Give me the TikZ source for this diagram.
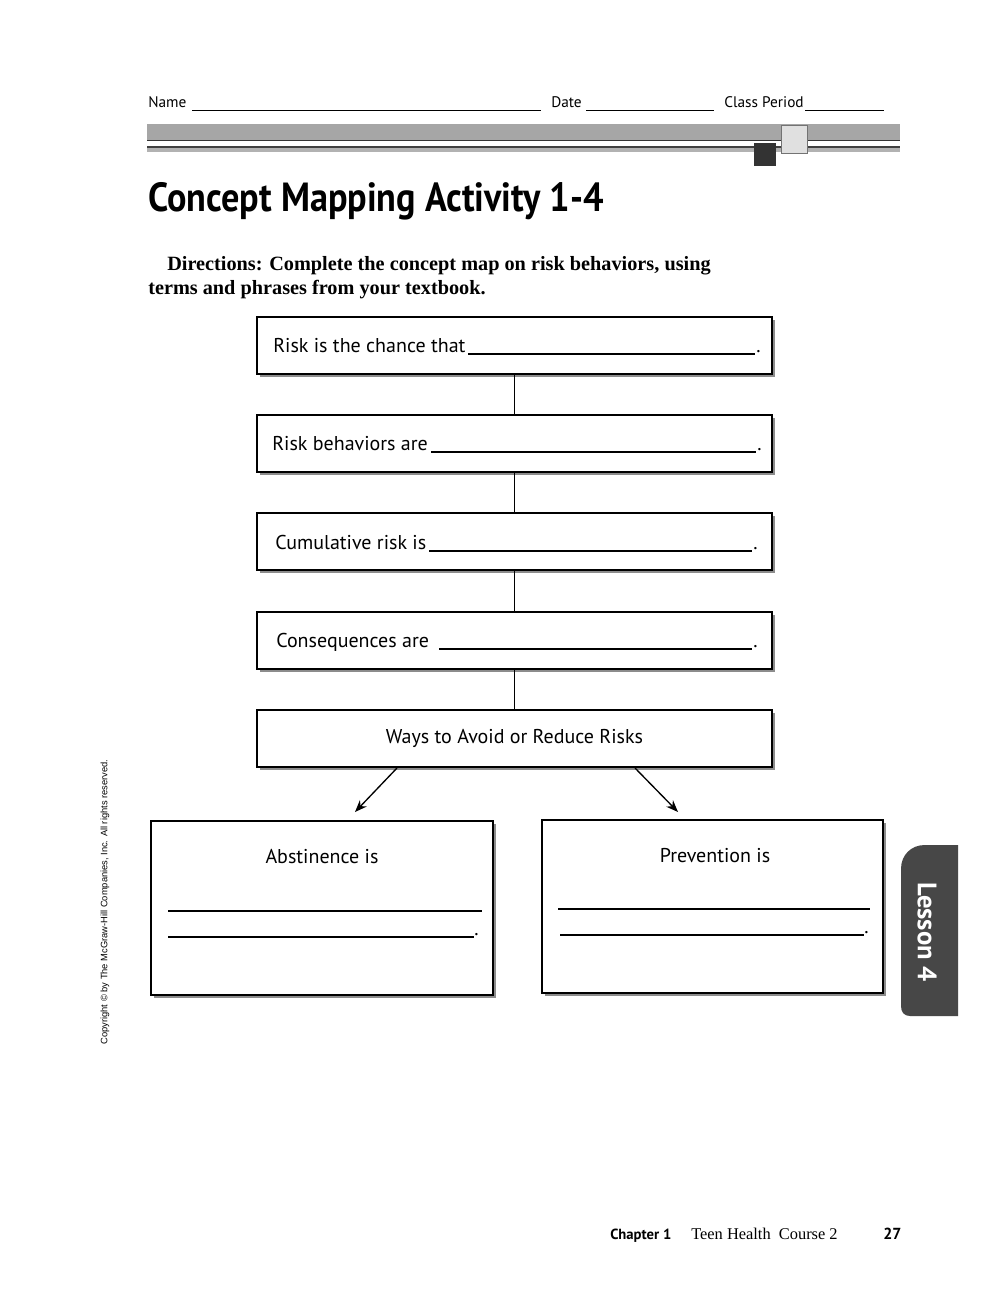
\documentclass[tikz,border=0pt]{standalone}
\usepackage{fontspec}
\setmainfont{Liberation Serif}
\newfontfamily\ptsans{PT Sans}
\newfontfamily\libsans{Liberation Sans}
\usetikzlibrary{arrows.meta,shadows,calc}
\tikzset{
  conceptbox/.style={draw=black, line width=1.1pt, fill=white, inner sep=0pt,
    drop shadow={shadow xshift=2pt, shadow yshift=-2pt, fill=black!45, opacity=1}},
  wide/.style={conceptbox, minimum width=386.25pt, minimum height=42.75pt},
  lbl/.style={font=\ptsans\fontsize{15pt}{18pt}\selectfont, inner sep=0pt},
  blank/.style={line width=0.8pt},
  conn/.style={line width=1.4pt},
  arr/.style={line width=1pt, -{Stealth[length=9pt,width=7pt]}},
  hdr/.style={font=\ptsans\fontsize{11.5pt}{14pt}\selectfont, inner sep=0pt, anchor=base west},
  dirtext/.style={inner sep=0pt, anchor=base west, font=\bfseries\fontsize{15.2pt}{18pt}\selectfont},
}
\begin{document}
\begin{tikzpicture}[x=0.75pt,y=-0.75pt]
\useasboundingbox (0,0) rectangle (1000,1291);
\fill[white] (0,0) rectangle (1000,1291);

% header
\node[hdr] (nm) at (148,108) {Name};
\draw[line width=0.7pt] (192,110) -- (541,110);
\node[hdr] (dt) at (551,108) {Date};
\draw[line width=0.7pt] (586,110) -- (714,110);
\node[hdr] (cp) at (724,108) {Class Period};
\draw[line width=0.7pt] (805,110) -- (884,110);

% header bar
\fill[black!35] (147,124) rectangle (900,140);
\draw[line width=1.2pt, black!80] (147,140.5) -- (900,140.5);
\fill[black!30] (147,146) rectangle (900,152);
\draw[line width=1pt, black!75] (147,147) -- (900,147);
\fill[black!80] (754,143) rectangle (776,166);
\fill[black!12] (781,125) rectangle (807,153);
\draw[black!55, line width=0.6pt] (781,125) rectangle (807,153);

% title
\node[inner sep=0pt, anchor=base west] (title) at (148,212)
  {\scalebox{0.89}[1]{\ptsans\bfseries\fontsize{30.5pt}{34pt}\selectfont Concept Mapping Activity 1-4}};

% directions
\node[dirtext] (dir1) at (167,270)
  {Directions: Complete the concept map on risk behaviors, using};
\node[dirtext] (dir2) at (148,294)
  {terms and phrases from your textbook.};

% concept boxes
\node[wide] (b1) at (514.5,345.5) {};
\node[wide] (b2) at (514.5,443.5) {};
\node[wide] (b3) at (514.5,541.5) {};
\node[wide] (b4) at (514.5,640.5) {};
\node[wide, lbl] (b5) at (514.5,738.5) {Ways to Avoid or Reduce Risks};

\draw[conn] (b1.south) -- (b2.north);
\draw[conn] (b2.south) -- (b3.north);
\draw[conn] (b3.south) -- (b4.north);
\draw[conn] (b4.south) -- (b5.north);

\node[lbl, anchor=base west] (t1) at (273,352) {Risk is the chance that};
\draw[blank] (468,354) -- (755,354);
\node[lbl, anchor=base west] (p1) at (756,352) {.};

\node[lbl, anchor=base west] (t2) at (272,450) {Risk behaviors are};
\draw[blank] (431,452) -- (756,452);
\node[lbl, anchor=base west] (p2) at (757,450) {.};

\node[lbl, anchor=base west] (t3) at (275,549) {Cumulative risk is};
\draw[blank] (429,551) -- (752,551);
\node[lbl, anchor=base west] (p3) at (753,549) {.};

\node[lbl, anchor=base west] (t4) at (276,647) {Consequences are};
\draw[blank] (439,649) -- (752,649);
\node[lbl, anchor=base west] (p4) at (753,647) {.};

% lower boxes
\node[conceptbox, minimum width=256.5pt, minimum height=130.5pt] (b6) at (322,908) {};
\node[conceptbox, minimum width=255.75pt, minimum height=129.75pt] (b7) at (712.5,906.5) {};

\coordinate (a1s) at (397,768);
\coordinate (a1e) at (355,812);
\coordinate (a2s) at (635,768);
\coordinate (a2e) at (678,812);
\draw[arr] (a1s) -- (a1e);
\draw[arr] (a2s) -- (a2e);

\node[lbl] (t6) at (322,857) {Abstinence is};
\draw[blank] (168,911) -- (482,911);
\draw[blank] (168,937) -- (474,937);
\node[lbl, anchor=base west] (p6) at (474,935) {.};

\node[lbl] (t7) at (715,856) {Prevention is};
\draw[blank] (558,909) -- (870,909);
\draw[blank] (560,935) -- (864,935);
\node[lbl, anchor=base west] (p7) at (864,933) {.};

% lesson tab
\fill[black!72] (958,845) -- (925,845) .. controls (911,845) and (901,855) .. (901,869)
  -- (901,1006) .. controls (901,1012) and (904,1016) .. (910,1016) -- (958,1016) -- cycle;
\node[rotate=-90, text=white, font=\ptsans\bfseries\fontsize{20pt}{22pt}\selectfont, inner sep=0pt] (lesson) at (927,932) {Lesson 4};

% copyright
\node[rotate=90, font=\libsans\fontsize{7pt}{8pt}\selectfont, inner sep=0pt] (copy) at (105,902)
  {Copyright \textcopyright\ by The McGraw-Hill Companies, Inc. All rights reserved.};

% footer
\node[inner sep=0pt, anchor=base west, font=\ptsans\bfseries\fontsize{11pt}{13pt}\selectfont] (ch) at (610,1239) {Chapter 1};
\node[inner sep=0pt, anchor=base west, font=\fontsize{12.3pt}{14pt}\selectfont] (th) at (691,1239) {Teen Health\ \ Course 2};
\node[inner sep=0pt, anchor=base west, font=\ptsans\bfseries\fontsize{12pt}{14pt}\selectfont] (pg) at (883,1239) {27};
\end{tikzpicture}
\end{document}
